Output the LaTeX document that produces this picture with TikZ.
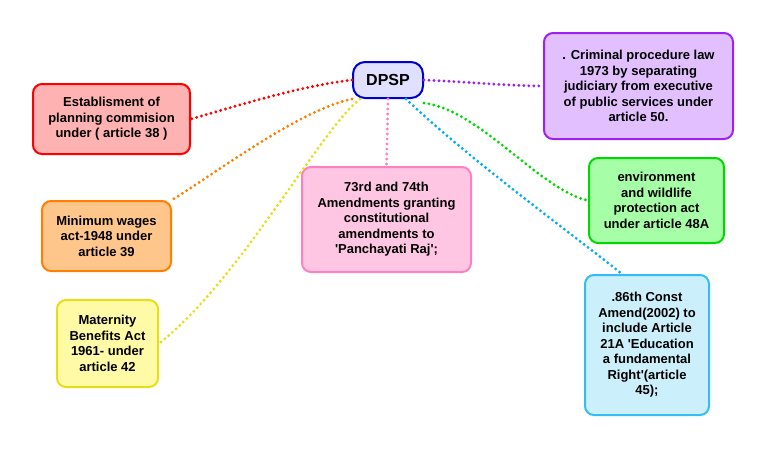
\documentclass[tikz,border=0pt]{standalone}
\usepackage{fontspec}
\setmainfont{Liberation Sans}
\usetikzlibrary{shapes,arrows,positioning}
\definecolor{plum}{HTML}{A020F0}
\definecolor{lavender}{HTML}{E2C0FF}
\definecolor{rose}{HTML}{FF80C0}
\tikzstyle{topic} = [draw,line width=2pt,rounded corners=9pt,align=center,font=\bfseries\fontsize{13}{15.5}\selectfont,inner sep=3pt]
\tikzstyle{link} = [line width=3.2pt,dash pattern=on 0pt off 5pt,line cap=round]

\begin{document}
\begin{tikzpicture}[x=1pt,y=-1pt]
\useasboundingbox (0,0) rectangle (767,451);
% centre
\node[topic,draw=blue!80!black,fill=blue!12,rounded corners=12pt,font=\bfseries\fontsize{16}{18}\selectfont,minimum width=70,minimum height=36] (dpsp) at (388,80) {DPSP};
% branches
\node[topic,draw=red,fill=red!30,minimum width=157,minimum height=70] (plan) at (111.5,119) {Establisment of\\planning commision\\under ( article 38 )};
\node[topic,draw=orange,fill=orange!45,minimum width=129,minimum height=70] (wage) at (106.5,236) {Minimum wages\\act-1948 under\\article 39};
\node[topic,draw=yellow!90!black,fill=yellow!35,minimum width=101,minimum height=87] (mat) at (107.5,343.5) {Maternity\\Benefits Act\\1961- under\\article 42};
\node[topic,draw=rose,fill=rose!45,minimum width=169,minimum height=105] (panch) at (386.5,219.5) {73rd and 74th\\Amendments granting\\constitutional\\amendments to\\\textquotesingle Panchayati Raj\textquotesingle;};
\node[topic,draw=plum,fill=lavender,minimum width=189,minimum height=106] (crim) at (638.5,86) {. Criminal procedure law\\1973 by separating\\judiciary from executive\\of public services under\\article 50.};
\node[topic,draw=green!85!black,fill=green!35,minimum width=135,minimum height=85] (env) at (656.5,200.5) {environment\\and wildlife\\protection act\\under article 48A};
\node[topic,draw=cyan!80,fill=cyan!20,minimum width=124,minimum height=140] (edu) at (647,345) {.86th Const\\Amend(2002) to\\include Article\\21A \textquotesingle Education\\a fundamental\\Right\textquotesingle(article\\45);};
% links
\draw[link,red] (dpsp.west) .. controls (300,86) and (240,105) .. (plan.east);
\draw[link,orange] (dpsp.south west) .. controls (300,110) and (220,170) .. (wage.north east);
\draw[link,yellow!90!black] ([xshift=8]dpsp.south west) .. controls (320,130) and (240,280) .. (mat.east);
\draw[link,rose] (dpsp.south) -- (panch.north);
\draw[link,plum] (dpsp.east) .. controls (470,82) and (510,86) .. (crim.west);
\draw[link,green!85!black] ([yshift=-4]dpsp.south east) .. controls (480,110) and (540,190) .. (env.west);
\draw[link,cyan] ([xshift=-18]dpsp.south east) .. controls (470,160) and (580,240) .. ([xshift=-25]edu.north);
\end{tikzpicture}
\end{document}
